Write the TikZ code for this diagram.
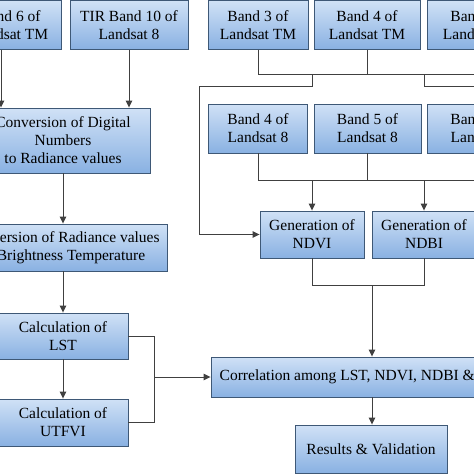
\documentclass[tikz,border=0pt]{standalone}
\usepackage{fontspec}
\setmainfont{Liberation Serif}
\usetikzlibrary{arrows.meta}
\definecolor{boxline}{HTML}{3E5876}
\definecolor{boxtop}{HTML}{D0E1F6}
\definecolor{boxbot}{HTML}{89B1E2}
\definecolor{wire}{HTML}{404040}

\tikzset{
  stage/.style={draw=boxline, line width=0.9pt, top color=boxtop, bottom color=boxbot,
    align=center, inner sep=2pt, font=\fontsize{15.5}{18}\selectfont},
  wireline/.style={draw=wire, line width=0.9pt},
  flow/.style={wireline, -{Triangle[length=7pt, width=6.5pt]}},
}

\begin{document}
\begin{tikzpicture}[x=1pt, y=-1pt]
  \useasboundingbox (0,0) rectangle (474,474);
  \clip (0,0) rectangle (474,474);
  \fill[white] (0,0) rectangle (474,474);

  % input bands
  \node[stage, minimum width=102pt, minimum height=49pt] (b6tm) at (10,25) {Band 6 of\\Landsat TM};
  \node[stage, minimum width=118pt, minimum height=49pt] (tir)  at (129,25) {TIR Band 10 of\\Landsat 8};
  \node[stage, minimum width=100pt, minimum height=49pt] (b3tm) at (258,25) {Band 3 of\\Landsat TM};
  \node[stage, minimum width=106pt, minimum height=49pt] (b4tm) at (367,25) {Band 4 of\\Landsat TM};
  \node[stage, minimum width=108pt, minimum height=49pt] (b5tm) at (481,25) {Band 5 of\\Landsat TM};
  \node[stage, minimum width=99pt, minimum height=49pt]  (b4l8) at (258,128.5) {Band 4 of\\Landsat 8};
  \node[stage, minimum width=107pt, minimum height=49pt] (b5l8) at (367.5,128.5) {Band 5 of\\Landsat 8};
  \node[stage, minimum width=108pt, minimum height=49pt] (b6l8) at (481,128.5) {Band 6 of\\Landsat 8};

  % processing steps
  \node[stage, minimum width=174pt, minimum height=65pt] (dn) at (63,140.5) {Conversion of Digital\\Numbers\\to Radiance values};
  \node[stage, minimum width=208pt, minimum height=47pt] (bt) at (63,247.5) {Conversion of Radiance values\\to Brightness Temperature};
  \node[stage, minimum width=130pt, minimum height=46pt] (lst) at (63,336) {Calculation of\\LST};
  \node[stage, minimum width=130pt, minimum height=47pt] (utfvi) at (63,422.5) {Calculation of\\UTFVI};
  \node[stage, minimum width=104pt, minimum height=47pt] (ndvi) at (312,234.5) {Generation of\\NDVI};
  \node[stage, minimum width=104pt, minimum height=47pt] (ndbi) at (424,234.5) {Generation of\\NDBI};
  \node[stage, minimum width=322pt, minimum height=40pt] (corr) at (372,377) {Correlation among LST, NDVI, NDBI \& UTFVI};
  \node[stage, minimum width=152pt, minimum height=48pt] (res) at (371,449) {Results \& Validation};

  % thermal branch
  \draw[flow] ([xshift=-9pt]b6tm.south) -- ([xshift=-9pt]b6tm.south |- dn.north);
  \draw[flow] (tir.south) -- (tir.south |- dn.north);
  \draw[flow] (dn.south) -- (bt.north);
  \draw[flow] (bt.south) -- (lst.north);
  \draw[flow] (lst.south) -- (utfvi.north);
  \coordinate (lstjoin) at (154,0);
  \draw[wireline] (lst.east) -| (lstjoin |- utfvi.east) -- (utfvi.east);
  \draw[flow] (lstjoin |- corr.west) -- (corr.west);

  % TM bands
  \coordinate (tmbar) at (0,74);
  \draw[wireline] (b3tm.south) -- (b3tm.south |- tmbar) -- (b5tm.south |- tmbar) -- (b5tm.south);
  \draw[wireline] (b4tm.south) -- (b4tm.south |- tmbar);
  \coordinate (tmsplitA) at (312,74);
  \coordinate (tmturnA) at (199,86);
  \draw[flow] (tmsplitA) |- (tmturnA) |- (ndvi.west);
  \coordinate (tmsplitB) at (424,74);
  \coordinate (tmturnB) at (545,86);
  \draw[flow] (tmsplitB) |- (tmturnB) |- (ndbi.east);

  % Landsat 8 bands
  \coordinate (l8bar) at (0,180);
  \draw[wireline] (b4l8.south) -- (b4l8.south |- l8bar) -- (b6l8.south |- l8bar) -- (b6l8.south);
  \draw[wireline] (b5l8.south) -- (b5l8.south |- l8bar);
  \draw[flow] (ndvi.north |- l8bar) -- (ndvi.north);
  \draw[flow] (ndbi.north |- l8bar) -- (ndbi.north);

  % indices to correlation
  \coordinate (ixbar) at (0,285);
  \draw[wireline] (ndvi.south) -- (ndvi.south |- ixbar) -- (ndbi.south |- ixbar) -- (ndbi.south);
  \draw[flow] (corr.north |- ixbar) -- (corr.north);
  \draw[flow] (corr.south) -- (corr.south |- res.north);
\end{tikzpicture}
\end{document}
